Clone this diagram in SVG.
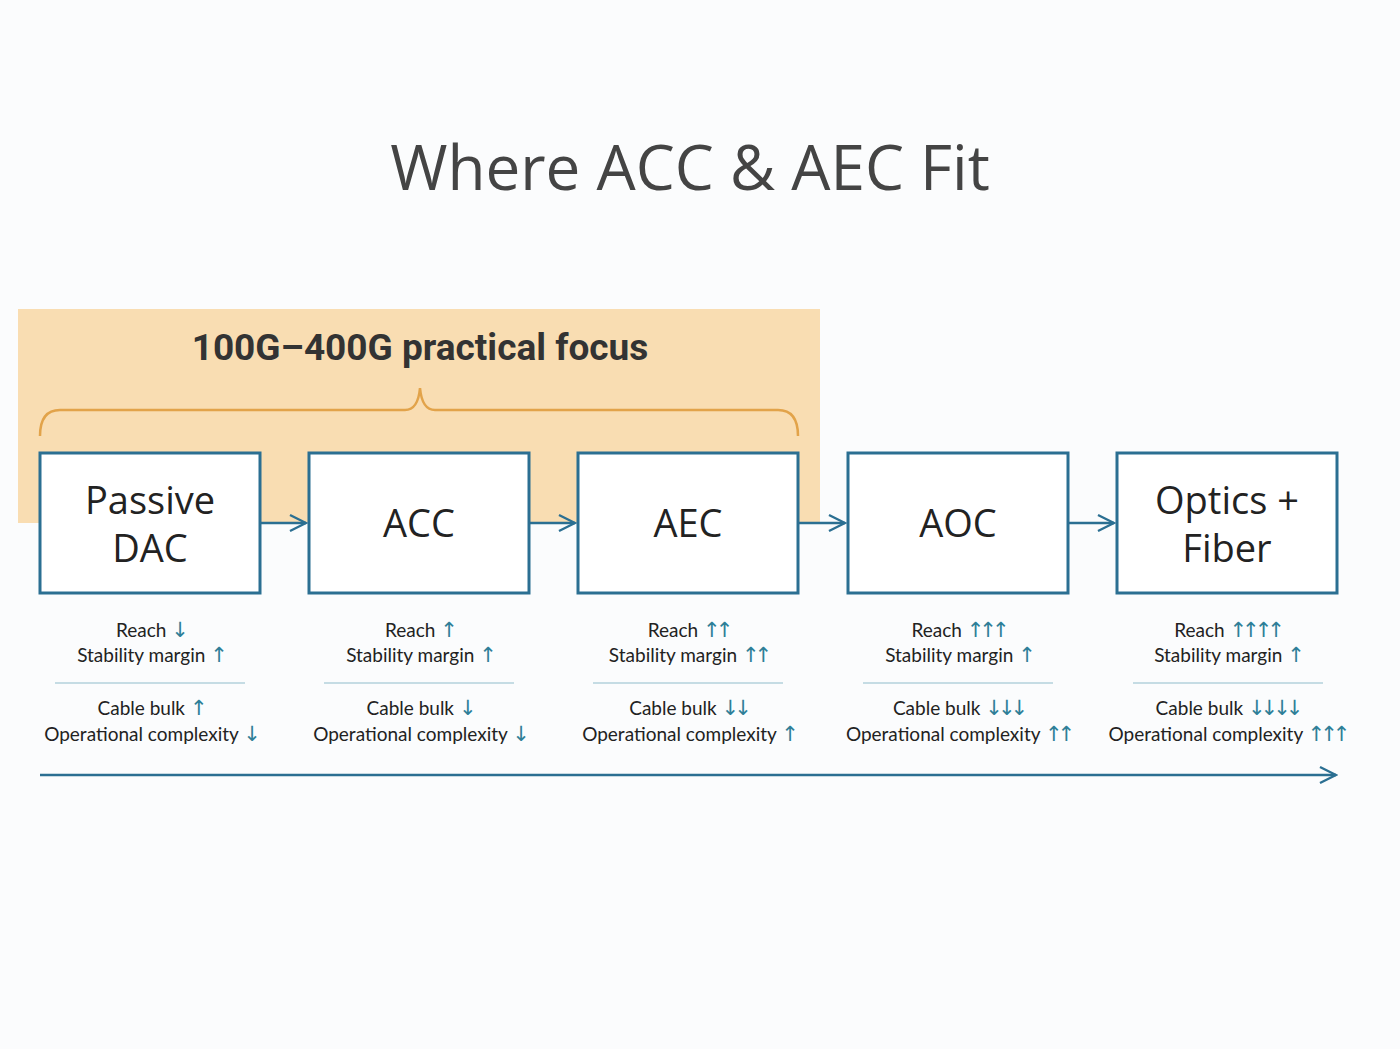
<svg xmlns="http://www.w3.org/2000/svg" width="1400" height="1049" viewBox="0 0 1400 1049">
<style>
.box{fill:#fff;stroke:#2b6f92;stroke-width:3}
.lbl{font-family:"Open Sans","Liberation Sans",sans-serif;font-size:38px;fill:#222;text-anchor:middle}
.t{font-family:Lato,"Liberation Sans",sans-serif;font-size:19px;fill:#222;text-anchor:middle}
.a{fill:#2e7f98;font-family:"DejaVu Sans",sans-serif;font-size:21px;letter-spacing:-5px}
.sep{stroke:#8fbccc;stroke-width:1.2}
.con{stroke:#2b6f92;stroke-width:2.5;fill:none}
</style>
<defs>
<marker id="ah2" viewBox="0 0 10 10" refX="9" refY="5" markerWidth="20" markerHeight="20" orient="auto" markerUnits="userSpaceOnUse"><path d="M1 1 L9 5 L1 9" fill="none" stroke="#2b6f92" stroke-width="1.2"/></marker>
</defs>
<rect width="1400" height="1049" fill="#fbfcfd"/>
<text x="690" y="190" font-family="'Open Sans','Liberation Sans',sans-serif" font-size="62" fill="#444" text-anchor="middle">Where ACC &amp; AEC Fit</text>
<g id="focus">
<rect x="18" y="309" width="802" height="214" fill="#f8d7a4" opacity="0.85"/>
<text x="420" y="360" font-family="Roboto,'Liberation Sans',sans-serif" font-size="37" font-weight="bold" fill="#333" text-anchor="middle">100G–400G practical focus</text>
<path d="M40 436 Q40 410 60 410 L405 410 Q418 410 420 388 Q422 410 435 410 L778 410 Q798 410 798 436" fill="none" stroke="#e2a34a" stroke-width="2.5"/>
</g>
<g id="connectors">
<line class="con" x1="260" y1="523" x2="306" y2="523" marker-end="url(#ah2)"/>
<line class="con" x1="529" y1="523" x2="575" y2="523" marker-end="url(#ah2)"/>
<line class="con" x1="798" y1="523" x2="845" y2="523" marker-end="url(#ah2)"/>
<line class="con" x1="1068" y1="523" x2="1114" y2="523" marker-end="url(#ah2)"/>
<line class="con" x1="40" y1="775" x2="1336" y2="775" marker-end="url(#ah2)"/>
</g>
<g id="dac"><rect class="box" x="40" y="453" width="220" height="140"/><text class="lbl" x="150" y="514">Passive</text><text class="lbl" x="150" y="562">DAC</text>
<text class="t" x="150" y="637">Reach <tspan class="a">↓</tspan></text><text class="t" x="150" y="662">Stability margin <tspan class="a">↑</tspan></text><line class="sep" x1="55" y1="683" x2="245" y2="683"/><text class="t" x="150" y="715">Cable bulk <tspan class="a">↑</tspan></text><text class="t" x="150" y="741">Operational complexity <tspan class="a">↓</tspan></text></g>
<g id="acc"><rect class="box" x="309" y="453" width="220" height="140"/><text class="lbl" x="419" y="537">ACC</text>
<text class="t" x="419" y="637">Reach <tspan class="a">↑</tspan></text><text class="t" x="419" y="662">Stability margin <tspan class="a">↑</tspan></text><line class="sep" x1="324" y1="683" x2="514" y2="683"/><text class="t" x="419" y="715">Cable bulk <tspan class="a">↓</tspan></text><text class="t" x="419" y="741">Operational complexity <tspan class="a">↓</tspan></text></g>
<g id="aec"><rect class="box" x="578" y="453" width="220" height="140"/><text class="lbl" x="688" y="537">AEC</text>
<text class="t" x="688" y="637">Reach <tspan class="a">↑↑</tspan></text><text class="t" x="688" y="662">Stability margin <tspan class="a">↑↑</tspan></text><line class="sep" x1="593" y1="683" x2="783" y2="683"/><text class="t" x="688" y="715">Cable bulk <tspan class="a">↓↓</tspan></text><text class="t" x="688" y="741">Operational complexity <tspan class="a">↑</tspan></text></g>
<g id="aoc"><rect class="box" x="848" y="453" width="220" height="140"/><text class="lbl" x="958" y="537">AOC</text>
<text class="t" x="958" y="637">Reach <tspan class="a">↑↑↑</tspan></text><text class="t" x="958" y="662">Stability margin <tspan class="a">↑</tspan></text><line class="sep" x1="863" y1="683" x2="1053" y2="683"/><text class="t" x="958" y="715">Cable bulk <tspan class="a">↓↓↓</tspan></text><text class="t" x="958" y="741">Operational complexity <tspan class="a">↑↑</tspan></text></g>
<g id="optics"><rect class="box" x="1117" y="453" width="220" height="140"/><text class="lbl" x="1227" y="514">Optics +</text><text class="lbl" x="1227" y="562">Fiber</text>
<text class="t" x="1227" y="637">Reach <tspan class="a">↑↑↑↑</tspan></text><text class="t" x="1227" y="662">Stability margin <tspan class="a">↑</tspan></text><line class="sep" x1="1133" y1="683" x2="1323" y2="683"/><text class="t" x="1227" y="715">Cable bulk <tspan class="a">↓↓↓↓</tspan></text><text class="t" x="1227" y="741">Operational complexity <tspan class="a">↑↑↑</tspan></text></g>
</svg>
